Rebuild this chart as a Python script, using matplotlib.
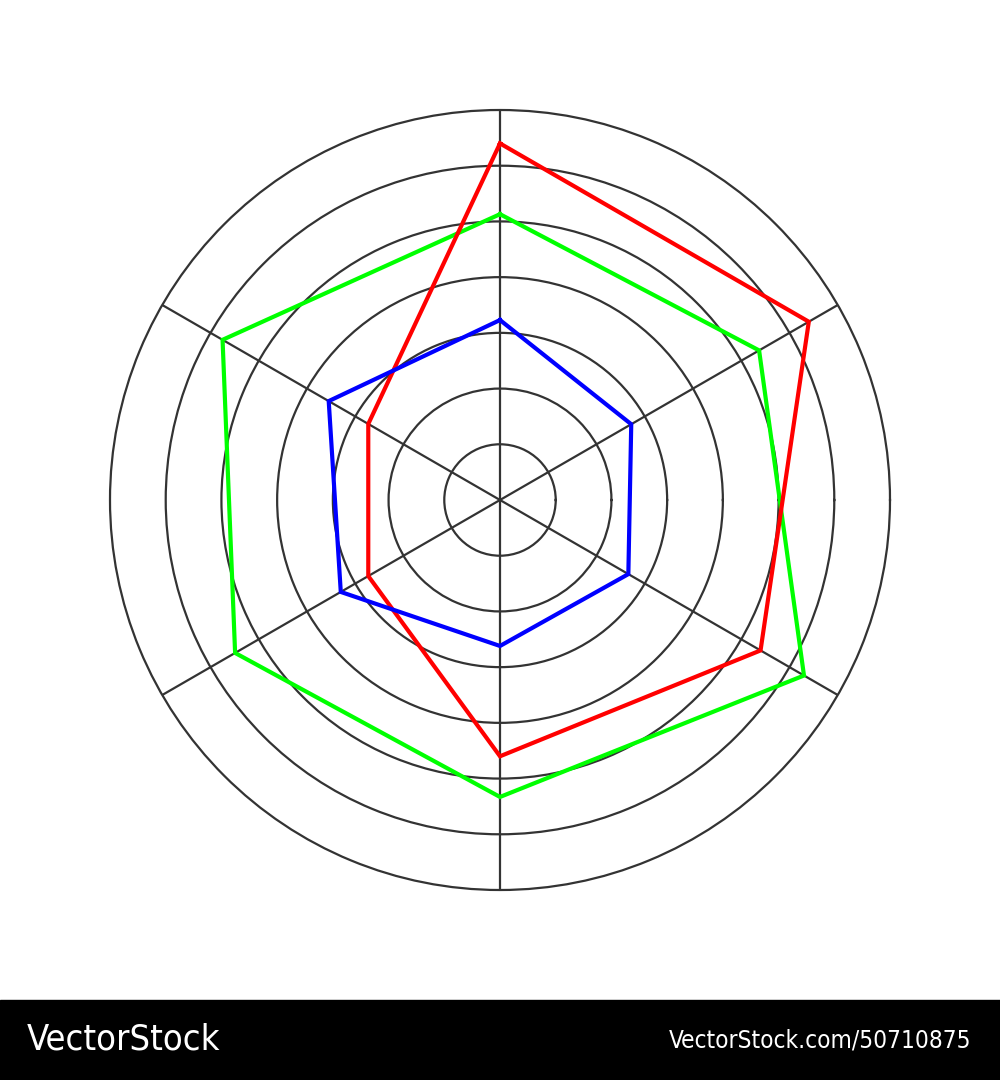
import matplotlib
matplotlib.use('Agg')
import matplotlib.pyplot as plt
import numpy as np

# axes go clockwise starting from the top
axes_deg = [90, 30, 330, 270, 210, 150]
rings = [1, 2, 3, 4, 5, 6]
rmax = 7

red = [6.4, 6.4, 5.4, 4.6, 2.73, 2.73]
green = [5.13, 5.37, 6.3, 5.33, 5.49, 5.75]
blue = [3.23, 2.72, 2.66, 2.62, 3.3, 3.55]

series = [(green, '#00ff00'), (red, '#ff0000'), (blue, '#0000ff')]

fig = plt.figure(figsize=(10, 10.8), dpi=100)
fig.patch.set_facecolor('white')

ax = fig.add_axes([0.11, 190 / 1080, 0.78, 780 / 1080], projection='polar')
theta = np.deg2rad(axes_deg)

grid_col = '#333333'
ax.set_xticks(theta)
ax.set_xticklabels([])
ax.set_thetalim(0, 2 * np.pi)
ax.set_ylim(0, rmax)
ax.set_yticks(rings)
ax.set_yticklabels([])
ax.grid(True, color=grid_col, linewidth=1.6, linestyle='-')
ax.spines['polar'].set_color(grid_col)
ax.spines['polar'].set_linewidth(1.6)
ax.tick_params(axis='both', length=0, width=0)
ax.yaxis.set_tick_params(which='both', length=0, width=0)

for vals, col in series:
    t = np.append(theta, theta[0])
    v = np.append(vals, vals[0])
    ax.plot(t, v, color=col, linewidth=3.0, solid_joinstyle='miter', zorder=5)

# watermark banner
fig.patches.append(plt.Rectangle((0, 0), 1, 80 / 1080, transform=fig.transFigure,
                                 color='black', zorder=0))
fig.text(0.027, 40 / 1080, 'VectorStock', color='white', fontsize=26,
         family='DejaVu Sans', fontstretch='condensed', va='center', ha='left')
fig.text(0.971, 40 / 1080, 'VectorStock.com/50710875', color='white', fontsize=17.5,
         family='DejaVu Sans', fontstretch='condensed', va='center', ha='right')

plt.savefig('out.png', dpi=100)
